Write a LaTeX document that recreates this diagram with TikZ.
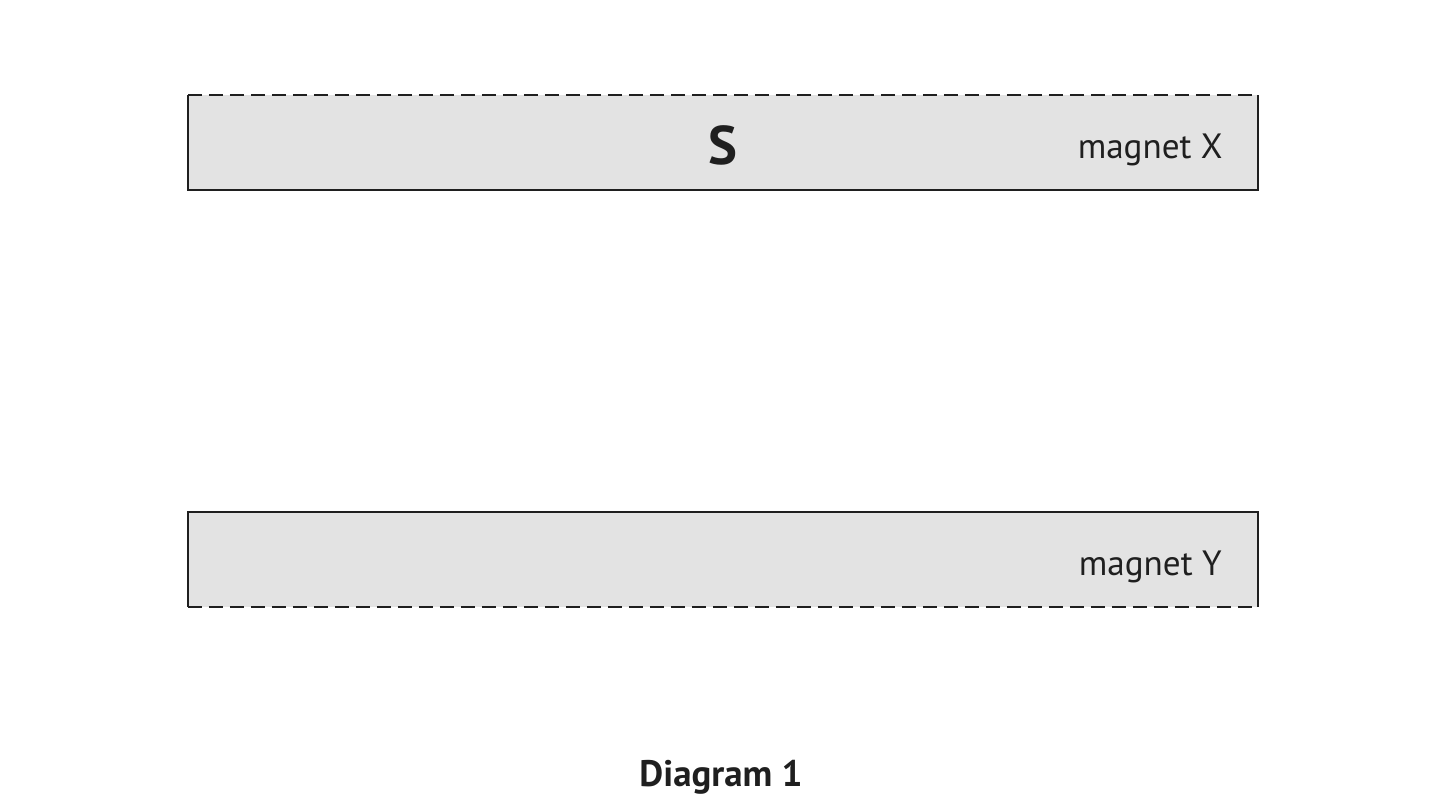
\documentclass[tikz,border=0pt]{standalone}
\usepackage{fontspec}
\setmainfont{PT Sans}
\usetikzlibrary{calc}

\tikzset{
  magnetfill/.style={fill=magnetgrey, draw=none},
  magnetedge/.style={draw=black!88, line width=1.2pt},
  openedge/.style={magnetedge, dash pattern=on 0.28cm off 0.14cm},
  magnetlabel/.style={anchor=base east, font=\fontsize{20}{24}\selectfont, text=black!88, inner sep=0pt},
}
\definecolor{magnetgrey}{gray}{0.89}

\begin{document}
\begin{tikzpicture}[x=0.02cm,y=0.02cm]
\useasboundingbox (0,0) rectangle (1446,806);

% magnet X
\begin{scope}
\coordinate (xsw) at (188,616);
\coordinate (xne) at (1258,711);
\coordinate (xnw) at (xsw |- xne);
\coordinate (xse) at (xne |- xsw);
\path[magnetfill] (xsw) rectangle (xne);
\draw[magnetedge] (xnw) -- (xsw) -- (xse) -- (xne);
\draw[openedge] (xnw) -- (xne);
\node[font=\fontsize{31}{36}\selectfont\bfseries, text=black!88] (spole) at (723,661) {S};
\node[magnetlabel] (xlabel) at (1223,647) {magnet X};
\end{scope}

% magnet Y
\begin{scope}
\coordinate (ysw) at (188,199);
\coordinate (yne) at (1258,294);
\coordinate (ynw) at (ysw |- yne);
\coordinate (yse) at (yne |- ysw);
\path[magnetfill] (ysw) rectangle (yne);
\draw[magnetedge] (ysw) -- (ynw) -- (yne) -- (yse);
\draw[openedge] (ysw) -- (yse);
\node[magnetlabel] (ylabel) at (1222,231) {magnet Y};
\end{scope}

\node[anchor=base, font=\fontsize{21}{25}\selectfont\bfseries, text=black!88, inner sep=0pt] (caption) at (721,20) {Diagram 1};

\end{tikzpicture}
\end{document}
